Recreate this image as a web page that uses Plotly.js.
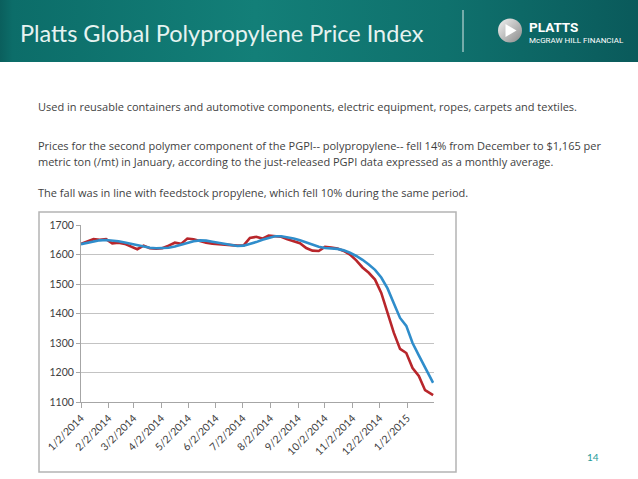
<!DOCTYPE html>
<html>
<head>
<meta charset="utf-8">
<script src="https://cdn.plot.ly/plotly-3.0.1.min.js"></script>
<style>html,body{margin:0;padding:0;background:#fff;overflow:hidden}#chart{width:638px;height:479px}</style>
</head>
<body>
<div id="chart"></div>
<script>
const dates = ['2014-01-02','2014-01-09','2014-01-16','2014-01-23','2014-01-30',
 '2014-02-06','2014-02-13','2014-02-20','2014-02-27',
 '2014-03-06','2014-03-13','2014-03-20','2014-03-27',
 '2014-04-03','2014-04-10','2014-04-17','2014-04-24',
 '2014-05-01','2014-05-08','2014-05-15','2014-05-22','2014-05-29',
 '2014-06-05','2014-06-12','2014-06-19','2014-06-26',
 '2014-07-03','2014-07-10','2014-07-17','2014-07-24','2014-07-31',
 '2014-08-07','2014-08-14','2014-08-21','2014-08-28',
 '2014-09-04','2014-09-11','2014-09-18','2014-09-25',
 '2014-10-02','2014-10-09','2014-10-16','2014-10-23','2014-10-30',
 '2014-11-06','2014-11-13','2014-11-20','2014-11-27',
 '2014-12-04','2014-12-11','2014-12-18','2014-12-25',
 '2015-01-01','2015-01-08','2015-01-15','2015-01-22','2015-01-29','2015-01-31'];

const polypropylene = [1636,1645,1652,1650,1652, 1638,1640,1636,1627, 1618,1630,1621,1620,
 1621,1630,1640,1636, 1654,1652,1646,1640,1637, 1635,1633,1631,1630,
 1631,1656,1660,1654,1664, 1662,1660,1652,1645, 1638,1622,1613,1612,
 1626,1624,1620,1612,1600, 1580,1556,1538,1515, 1470,1405,1335,1280,
 1266,1215,1188,1140,1127,1123];

const average = [1635,1640,1645,1648,1649, 1648,1645,1641,1636, 1631,1627,1623,1621,
 1621,1623,1627,1633, 1640,1645,1648,1647,1643, 1639,1635,1631,1629,
 1630,1635,1642,1650,1657, 1662,1662,1659,1654, 1648,1641,1633,1626,
 1622,1620,1619,1614,1606, 1595,1582,1566,1548, 1522,1485,1435,1385,
 1358,1300,1258,1218,1178,1165];

const tickDates = ['2014-01-02','2014-02-02','2014-03-02','2014-04-02','2014-05-02','2014-06-02',
 '2014-07-02','2014-08-02','2014-09-02','2014-10-02','2014-11-02','2014-12-02','2015-01-02'];
const tickLabels = ['1/2/2014','2/2/2014','3/2/2014','4/2/2014','5/2/2014','6/2/2014',
 '7/2/2014','8/2/2014','9/2/2014','10/2/2014','11/2/2014','12/2/2014','1/2/2015'];

const headerTitle = 'Platts Global Polypropylene Price Index';
const bodyLines = [
 'Used in reusable containers and automotive components, electric equipment, ropes, carpets and textiles.',
 'Prices for the second polymer component of the PGPI-- polypropylene-- fell 14% from December to $1,165 per',
 'metric ton (/mt) in January, according to the just-released PGPI data expressed as a monthly average.',
 'The fall was in line with feedstock propylene, which fell 10% during the same period.'
];
const pageNum = '14';

// plot area geometry (px)
const L = 81, R = 434, T = 225, B = 402;
const PX = p => (p - L) / (R - L);
const PY = p => (B - p) / (B - T);

const gradSvg = '<svg xmlns="http://www.w3.org/2000/svg" width="638" height="62" preserveAspectRatio="none">' +
 '<defs><linearGradient id="g" x1="0" y1="0" x2="1" y2="0">' +
 '<stop offset="0" stop-color="#0a5f5d"/><stop offset="0.02" stop-color="#0c6d69"/>' +
 '<stop offset="0.4" stop-color="#137f78"/><stop offset="0.7" stop-color="#0f716d"/>' +
 '<stop offset="1" stop-color="#0a5a5b"/></linearGradient>' +
 '<linearGradient id="c" x1="0" y1="0" x2="1" y2="1"><stop offset="0" stop-color="#f2f2f2"/><stop offset="1" stop-color="#8a8a8a"/></linearGradient></defs>' +
 '<rect width="638" height="62" fill="url(#g)"/>' +
 '<circle cx="510" cy="30.5" r="12" fill="url(#c)"/>' +
 '<path d="M505.5 24 L505.5 37 L516.5 30.5 Z" fill="#ffffff"/>' +
 '</svg>';

const traces = [
 {x: dates, y: polypropylene, type: 'scatter', mode: 'lines', name: 'Polypropylene',
  line: {color: '#b8262b', width: 2.6}, hoverinfo: 'skip'},
 {x: dates, y: average, type: 'scatter', mode: 'lines', name: 'Average',
  line: {color: '#2f8dcb', width: 2.6}, hoverinfo: 'skip'}
];

const ann = [];
ann.push({text: headerTitle, x: PX(18), y: PY(33), xref: 'paper', yref: 'paper', xanchor: 'left', yanchor: 'middle',
 showarrow: false, font: {family: 'Lato, sans-serif', size: 23.5, color: '#e6f3f1'}});
ann.push({text: '<b>PLATTS</b>', x: PX(527), y: PY(27), xref: 'paper', yref: 'paper', xanchor: 'left', yanchor: 'middle',
 showarrow: false, font: {family: 'Roboto, Arial, sans-serif', size: 13.5, color: '#ffffff'}});
ann.push({text: 'McGRAW HILL FINANCIAL', x: PX(527), y: PY(41), xref: 'paper', yref: 'paper', xanchor: 'left', yanchor: 'middle',
 showarrow: false, font: {family: 'Roboto, Arial, sans-serif', size: 8, color: '#ffffff'}});
const bodyY = [107, 145, 161, 192];
bodyLines.forEach((t, i) => ann.push({text: t, x: PX(36), y: PY(bodyY[i]), xref: 'paper', yref: 'paper',
 xanchor: 'left', yanchor: 'middle', showarrow: false,
 font: {family: '"Open Sans", sans-serif', size: 11, color: '#3f3f3f'}}));
ann.push({text: pageNum, x: PX(593), y: PY(457), xref: 'paper', yref: 'paper', xanchor: 'center', yanchor: 'middle',
 showarrow: false, font: {family: 'Lato, sans-serif', size: 10, color: '#1f9c9a'}});

const layout = {
 width: 638, height: 479,
 margin: {l: L, r: 638 - R, t: T, b: 479 - B, pad: 0},
 paper_bgcolor: '#ffffff', plot_bgcolor: '#ffffff',
 showlegend: false,
 xaxis: {type: 'date', range: ['2014-01-02', '2015-02-01'], tickvals: tickDates, ticktext: tickLabels,
  tickangle: -45, ticks: 'outside', ticklen: 5, tickcolor: '#a6a6a6', showgrid: false,
  showline: true, linecolor: '#a6a6a6', linewidth: 1, zeroline: false,
  tickfont: {family: 'Lato, sans-serif', size: 10.5, color: '#404040'}, fixedrange: true},
 yaxis: {range: [1100, 1700], dtick: 100, tick0: 1100, showgrid: true, gridcolor: '#c3c3c3', gridwidth: 1,
  showline: true, linecolor: '#a6a6a6', ticks: 'outside', ticklen: 4, tickcolor: '#a6a6a6', zeroline: false,
  tickfont: {family: 'Lato, sans-serif', size: 10.5, color: '#404040'}, fixedrange: true},
 images: [{source: 'data:image/svg+xml;charset=utf-8,' + encodeURIComponent(gradSvg),
  xref: 'paper', yref: 'paper', x: PX(0), y: PY(0), sizex: 638 / (R - L), sizey: 62 / (B - T),
  xanchor: 'left', yanchor: 'top', sizing: 'stretch', layer: 'below'}],
 shapes: [
  {type: 'rect', xref: 'paper', yref: 'paper', x0: PX(39), x1: PX(456), y0: PY(472), y1: PY(212),
   line: {color: '#b4b4b4', width: 1.5}, fillcolor: 'rgba(0,0,0,0)', layer: 'below'},
  {type: 'line', xref: 'paper', yref: 'paper', x0: PX(463), x1: PX(463), y0: PY(10), y1: PY(52),
   line: {color: 'rgba(255,255,255,0.85)', width: 1}}
 ],
 annotations: ann
};

Plotly.newPlot('chart', traces, layout, {staticPlot: true, displayModeBar: false});
</script>
</body>
</html>
